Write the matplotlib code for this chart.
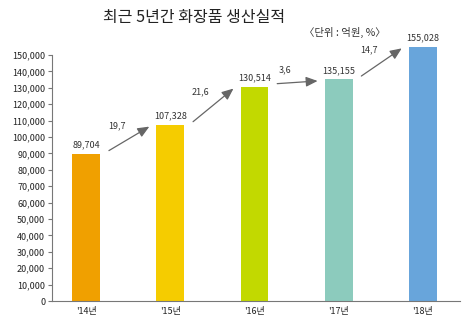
import matplotlib
matplotlib.use("Agg")
import matplotlib.pyplot as plt
from matplotlib.ticker import FuncFormatter

plt.rcParams['font.family'] = ['Noto Sans CJK KR', 'DejaVu Sans']

# data
years = ["'14년", "'15년", "'16년", "'17년", "'18년"]
production = [89704, 107328, 130514, 135155, 155028]
growth = ["19,7", "21,6", "3,6", "14,7"]
colors = ["#F0A000", "#F5CC00", "#C2D900", "#8CCBBD", "#68A5DB"]

fig = plt.figure(figsize=(4.74, 3.23), dpi=100)
ax = fig.add_axes([0.110, 0.068, 0.860, 0.838])

x = list(range(len(years)))
ax.bar(x, production, width=0.33, color=colors, zorder=2)

for i, v in enumerate(production):
    ax.annotate(f"{v:,}", (i, v), xytext=(0, 3), textcoords="offset points",
                ha="center", va="bottom", fontsize=6.5, color="#333333")

# growth arrows between bars
for i, g in enumerate(growth):
    x0, y0 = i + 0.27, production[i] + 2000
    x1, y1 = i + 0.75, production[i + 1] - 1000
    ax.annotate("", xy=(x1, y1), xytext=(x0, y0),
                arrowprops=dict(arrowstyle="-|>,head_length=0.7,head_width=0.3",
                                color="#666666", lw=0.9, shrinkA=0, shrinkB=0))
    ax.annotate(g, ((x0 + x1) / 2, (y0 + y1) / 2), xytext=(-9, 6),
                textcoords="offset points", ha="center", va="bottom",
                fontsize=6.5, color="#333333")

ax.set_xlim(-0.405, 4.44)
ax.set_ylim(0, 165000)
ax.set_yticks(range(0, 150001, 10000))
ax.yaxis.set_major_formatter(FuncFormatter(lambda v, p: f"{int(v):,}"))
ax.set_xticks(x)
ax.set_xticklabels(years)

for s in ["top", "right"]:
    ax.spines[s].set_visible(False)
ax.spines["left"].set_bounds(0, 150000)
ax.spines["left"].set_color("#777777")
ax.spines["bottom"].set_color("#777777")
ax.tick_params(axis="y", length=3, width=0.8, color="#777777", labelsize=6.5,
               labelcolor="#222222", pad=2)
ax.tick_params(axis="x", length=0, labelsize=6.5, labelcolor="#222222", pad=4)

fig.text(0.41, 0.945, "최근 5년간 화장품 생산실적", ha="center", va="center",
         fontsize=11.5, fontweight="medium", color="#222222")
fig.text(0.728, 0.90, "〈단위 : 억원, %〉", ha="center", va="center",
         fontsize=7.5, color="#333333")

fig.savefig("out.png", dpi=100)
